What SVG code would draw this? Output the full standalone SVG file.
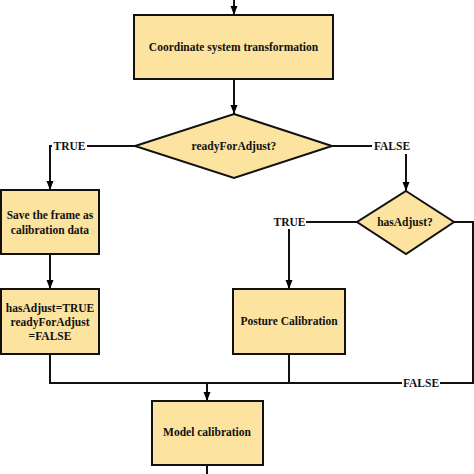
<svg xmlns="http://www.w3.org/2000/svg" width="474" height="474" viewBox="0 0 474 474">
<defs>
<marker id="ah" markerUnits="userSpaceOnUse" markerWidth="10" markerHeight="10" viewBox="0 0 10 10" refX="10" refY="5" orient="auto">
<path d="M1,1.5 L10,5 L1,8.5 Z" fill="#000"/>
</marker>
<style>
.n{fill:#FCE39F;stroke:#111;stroke-width:2}
.c{fill:none;stroke:#111;stroke-width:2}
text{font-family:"Liberation Serif","Times New Roman",serif;font-weight:bold;font-size:11.5px;fill:#111;text-anchor:middle}
</style>
</defs>
<rect width="474" height="474" fill="#fff"/>
<g id="connectors">
<path class="c" d="M234,0 V15" marker-end="url(#ah)"/>
<path class="c" d="M234,79 V114" marker-end="url(#ah)"/>
<path class="c" d="M135,146 H87"/>
<path class="c" d="M52,146 H50 V190" marker-end="url(#ah)"/>
<path class="c" d="M332,146 H372"/>
<path class="c" d="M406,154 V191" marker-end="url(#ah)"/>
<path class="c" d="M357,222 H306"/>
<path class="c" d="M289,229 V289" marker-end="url(#ah)"/>
<path class="c" d="M454,222 H473 V383 H440"/>
<path class="c" d="M402,383 H50 V354"/>
<path class="c" d="M289,354 V383"/>
<path class="c" d="M50,254 V289" marker-end="url(#ah)"/>
<path class="c" d="M207,383 V401" marker-end="url(#ah)"/>
<path class="c" d="M207,465 V474"/>
<text x="69.5" y="150">TRUE</text>
<text x="392" y="150">FALSE</text>
<text x="289.5" y="226">TRUE</text>
<text x="421" y="387">FALSE</text>
</g>
<g id="coord">
<rect class="n" x="134" y="15" width="199" height="64"/>
<text x="233.5" y="51">Coordinate system transformation</text>
</g>
<g id="ready">
<polygon class="n" points="234,114 332,146 234,178 135,146"/>
<text x="234" y="150">readyForAdjust?</text>
</g>
<g id="save">
<rect class="n" x="1" y="190" width="98" height="64"/>
<text x="50" y="219">Save the frame as</text>
<text x="50" y="234">calibration data</text>
</g>
<g id="has">
<polygon class="n" points="406,191 454,222 406,254 357,222"/>
<text x="405" y="226">hasAdjust?</text>
</g>
<g id="set">
<rect class="n" x="1" y="289" width="98" height="65"/>
<text x="50" y="312">hasAdjust=TRUE</text>
<text x="50" y="326">readyForAdjust</text>
<text x="50" y="340">=FALSE</text>
</g>
<g id="posture">
<rect class="n" x="233" y="289" width="112" height="65"/>
<text x="289" y="325">Posture Calibration</text>
</g>
<g id="model">
<rect class="n" x="152" y="401" width="111" height="64"/>
<text x="207" y="436">Model calibration</text>
</g>
</svg>
